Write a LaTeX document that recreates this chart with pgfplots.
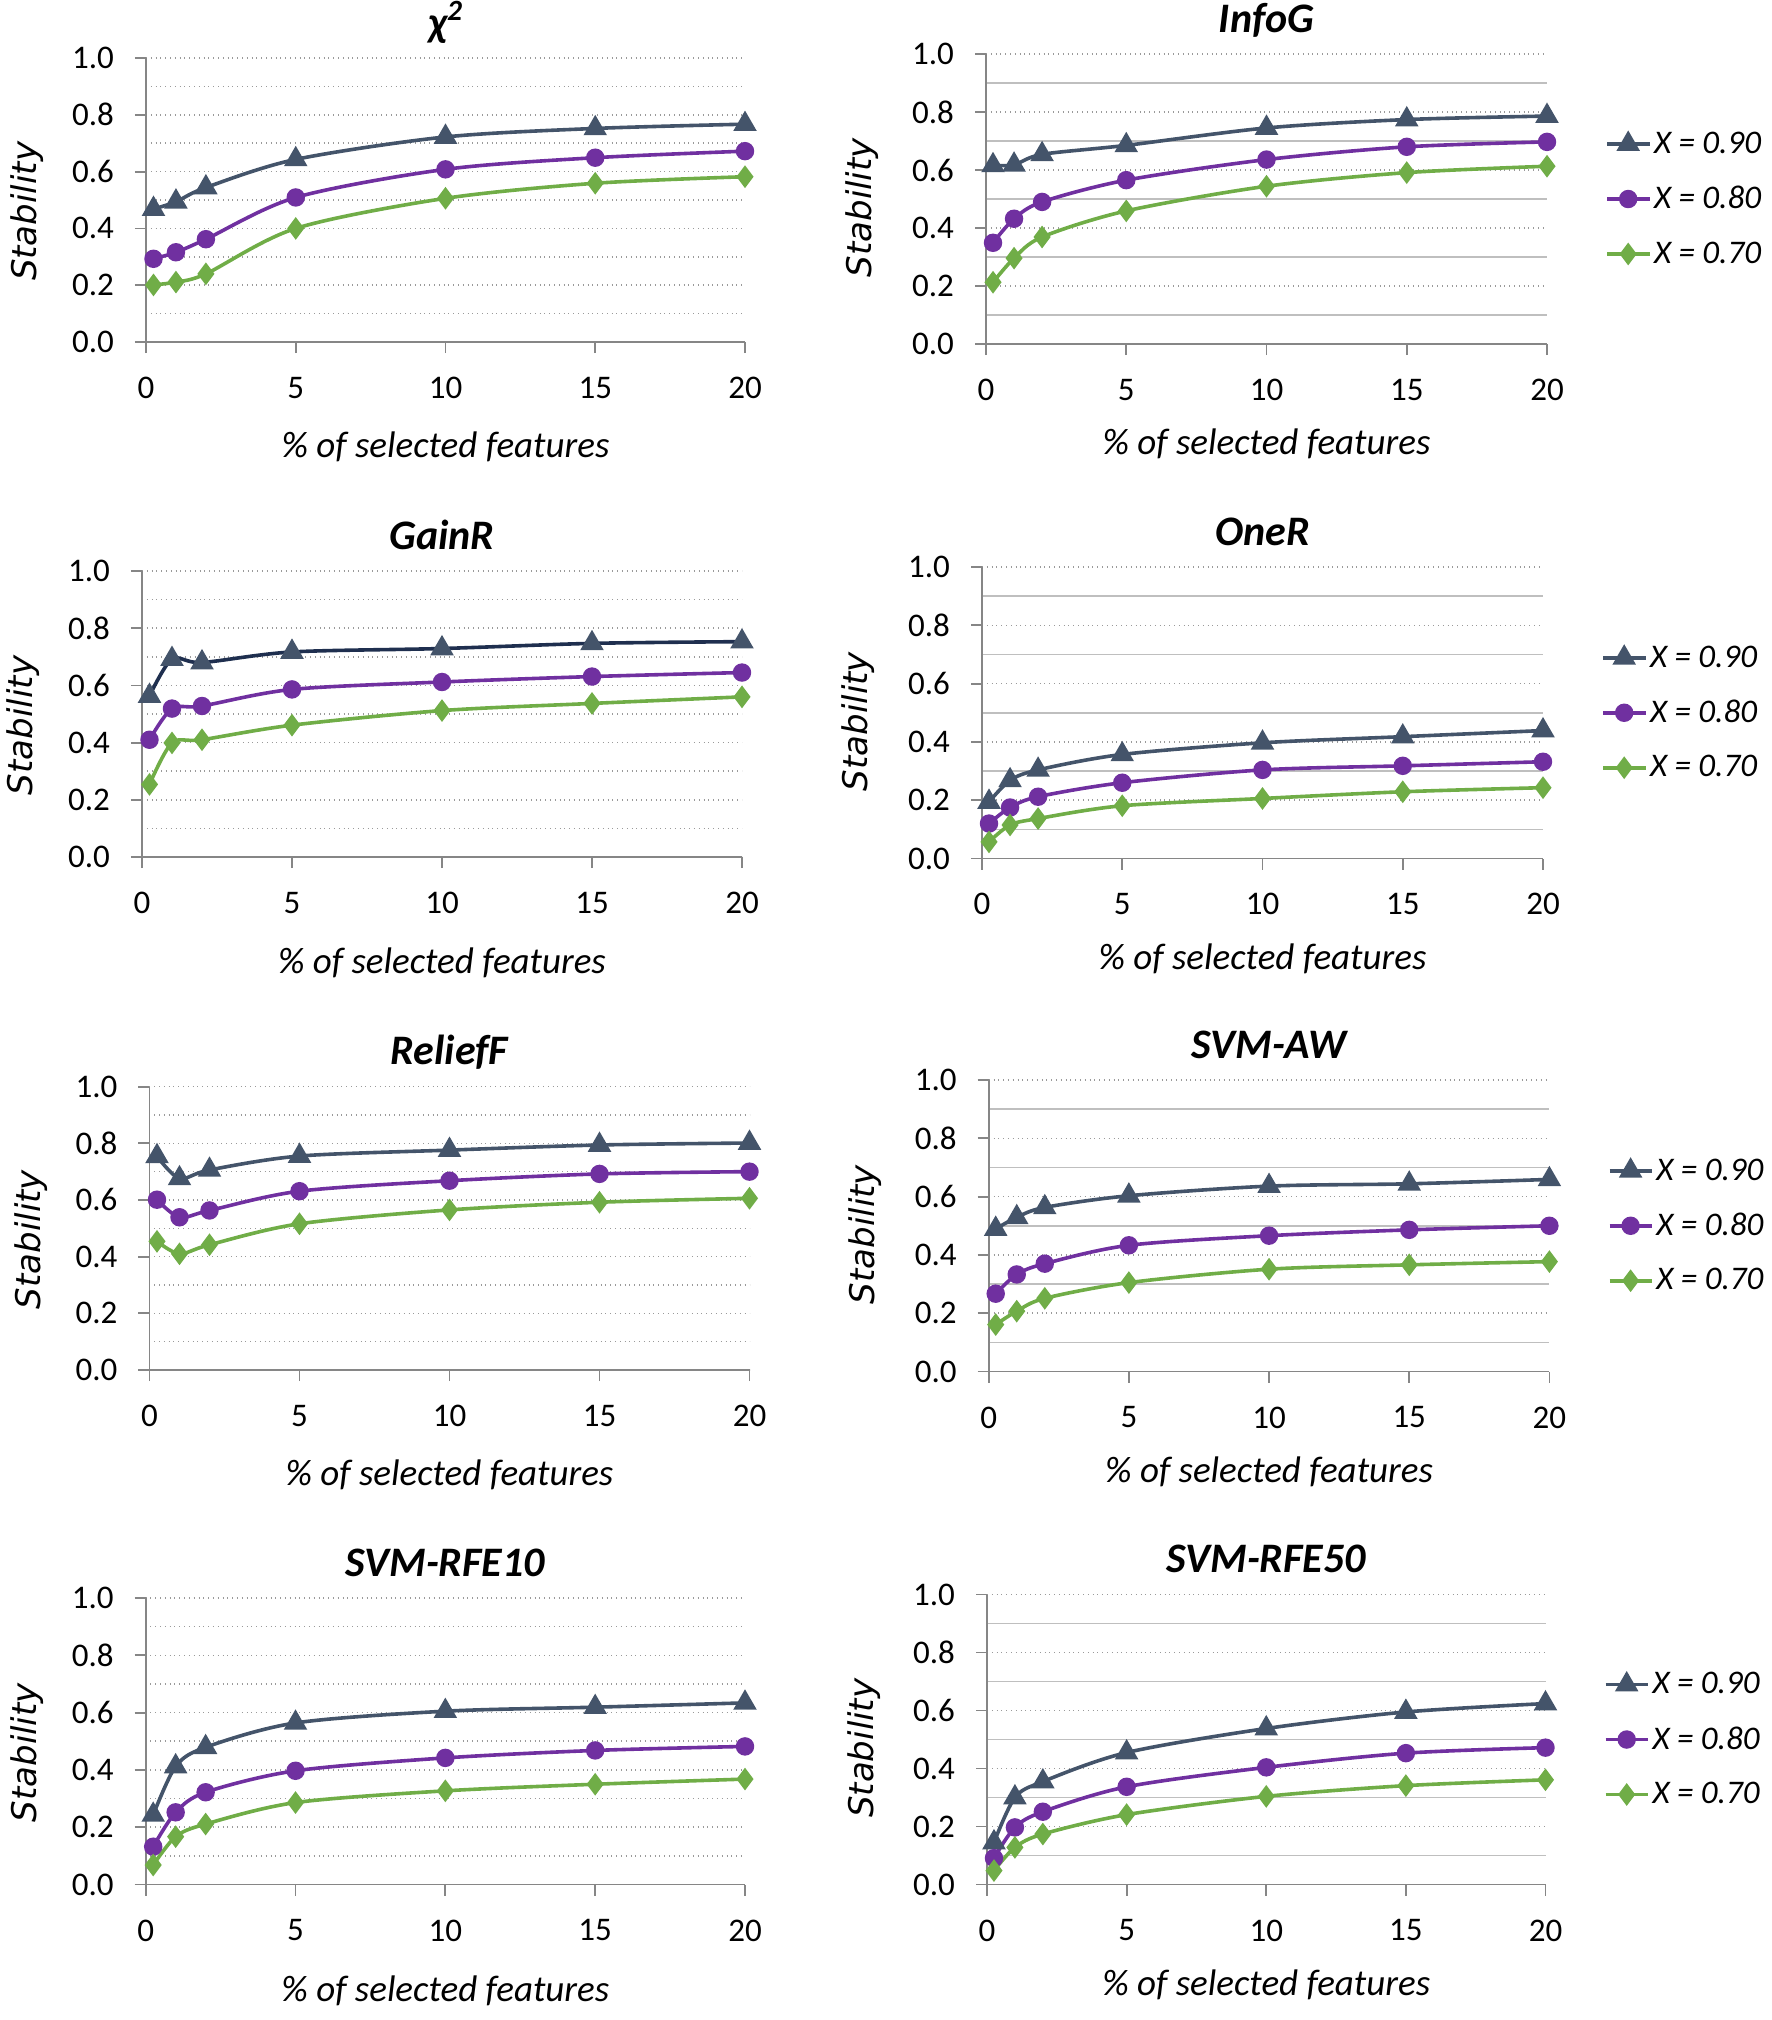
\documentclass[border=0pt]{standalone}
\usepackage{fontspec}
\setmainfont{Carlito}
\newfontfamily\stabfont{DejaVu Sans}
\usepackage{pgfplots}
\pgfplotsset{compat=1.18}
\usepackage{pgfplotstable}
\definecolor{cA}{HTML}{44546A}
\definecolor{cAdark}{HTML}{1F2F4F}
\definecolor{cB}{HTML}{7030A0}
\definecolor{cC}{HTML}{70AD47}
\definecolor{axgray}{HTML}{868686}
\definecolor{gridgray}{HTML}{9A9A9A}
\definecolor{minorgray}{HTML}{BFBFBF}

% chi2
\pgfplotstableread{
x a b c
0.25 0.468 0.293 0.201
1 0.494 0.316 0.211
2 0.544 0.362 0.240
5 0.643 0.509 0.400
10 0.722 0.608 0.506
15 0.752 0.649 0.559
20 0.767 0.672 0.582
}\tabA
% InfoG
\pgfplotstableread{
x a b c
0.25 0.616 0.349 0.213
1 0.618 0.432 0.296
2 0.654 0.490 0.369
5 0.685 0.565 0.459
10 0.745 0.636 0.544
15 0.774 0.680 0.591
20 0.786 0.697 0.613
}\tabB
% GainR
\pgfplotstableread{
x a b c
0.25 0.563 0.410 0.254
1 0.692 0.519 0.399
2 0.680 0.528 0.410
5 0.717 0.586 0.461
10 0.729 0.612 0.512
15 0.747 0.631 0.537
20 0.753 0.645 0.560
}\tabC
% OneR
\pgfplotstableread{
x a b c
0.25 0.194 0.120 0.057
1 0.268 0.175 0.115
2 0.304 0.212 0.137
5 0.357 0.260 0.181
10 0.397 0.304 0.206
15 0.418 0.318 0.229
20 0.439 0.332 0.243
}\tabD
% ReliefF
\pgfplotstableread{
x a b c
0.25 0.754 0.601 0.454
1 0.676 0.539 0.410
2 0.706 0.563 0.442
5 0.755 0.631 0.516
10 0.776 0.668 0.565
15 0.794 0.692 0.592
20 0.801 0.700 0.606
}\tabE
% SVM-AW
\pgfplotstableread{
x a b c
0.25 0.489 0.267 0.161
1 0.529 0.333 0.207
2 0.563 0.370 0.251
5 0.603 0.433 0.305
10 0.636 0.466 0.351
15 0.644 0.486 0.366
20 0.659 0.500 0.377
}\tabF
% SVM-RFE10
\pgfplotstableread{
x a b c
0.25 0.243 0.132 0.068
1 0.412 0.252 0.167
2 0.479 0.322 0.211
5 0.564 0.397 0.286
10 0.605 0.442 0.327
15 0.619 0.468 0.350
20 0.634 0.482 0.368
}\tabG
% SVM-RFE50
\pgfplotstableread{
x a b c
0.25 0.145 0.091 0.048
1 0.300 0.197 0.128
2 0.355 0.251 0.174
5 0.455 0.337 0.241
10 0.538 0.404 0.304
15 0.595 0.453 0.341
20 0.624 0.472 0.361
}\tabH

\pgfplotsset{
  pan/.style={
    scale only axis, anchor=south west,
    xmin=0, xmax=20, ymin=0, ymax=1,
    axis lines*=left,
    axis line style={axgray, line width=0.9pt, -},
    xtick={0,5,10,15,20},
    ytick={0,0.2,0.4,0.6,0.8,1.0},
    minor ytick={0.1,0.3,0.5,0.7,0.9},
    ymajorgrids, yminorgrids,
    major grid style={gridgray, dotted, line width=0.8pt},
    tick align=outside,
    major tick length=5.5pt,
    minor tick length=0pt,
    tick style={axgray, line width=0.9pt},
    ticklabel style={font=\fontsize{16.5}{19}\selectfont},
    xticklabel shift=8.5pt,
    yticklabel shift=7pt,
    /pgf/number format/assume math mode=true,
    yticklabel style={/pgf/number format/.cd, fixed, fixed zerofill, precision=1},
    title style={at={(0.5,1)}, anchor=base, yshift=5pt, font=\fontsize{21}{25}\selectfont\bfseries\itshape},
    xlabel={\% of selected features},
    xlabel style={font=\fontsize{18.5}{22}\selectfont\itshape, anchor=center},
    ylabel={Stability},
    ylabel style={font=\fontsize{17}{20}\selectfont\stabfont\itshape, anchor=center},
    clip=false,
  },
  lpan/.style={pan,
    minor grid style={gridgray, dotted, line width=0.8pt},
    ylabel style={at={(axis description cs:-0.198,0.46)}},
    xlabel style={at={(axis description cs:0.5,-0.37)}},
  },
  rpan/.style={pan,
    minor grid style={minorgray, solid, line width=0.8pt},
    ylabel style={at={(axis description cs:-0.22,0.47)}},
    xlabel style={at={(axis description cs:0.5,-0.345)}},
    legend style={at={(1,0.5)}, anchor=west, xshift=29pt, draw=none, fill=none,
      font=\fontsize{16.5}{19}\selectfont\itshape, row sep=13pt, inner sep=0pt,
      cells={anchor=west}, nodes={inner xsep=1.5pt, inner ysep=1pt}},
    legend image code/.code={\draw[#1, mark repeat=2, mark phase=2] plot coordinates {(0pt,0pt) (10.5pt,0pt) (21pt,0pt)};},
  },
  s90/.style={cA, line width=1.8pt, smooth, tension=0.5, mark=triangle*, mark size=5pt, mark options={solid, fill=cA}},
  s90d/.style={cAdark, line width=1.8pt, smooth, tension=0.5, mark=triangle*, mark size=5pt, mark options={solid, fill=cA, draw=cA}},
  s80/.style={cB, line width=1.8pt, smooth, tension=0.5, mark=*, mark size=3.7pt, mark options={solid, fill=cB}},
  s70/.style={cC, line width=1.8pt, smooth, tension=0.5, mark=diamond*, mark size=4.2pt, mark options={solid, fill=cC}},
}

\begin{document}
\begin{tikzpicture}
\path[use as bounding box] (0pt,0pt) rectangle (886pt,-1010pt);

% chi2
\begin{axis}[lpan, at={(73pt,-171pt)}, width=299.5pt, height=142pt, title={χ\textsuperscript{2}}]
\addplot[s90] table[x=x,y=a]{\tabA};
\addplot[s80] table[x=x,y=b]{\tabA};
\addplot[s70] table[x=x,y=c]{\tabA};
\end{axis}

% InfoG
\begin{axis}[rpan, at={(493pt,-172pt)}, width=280.5pt, height=145pt, title={InfoG}]
\addplot[s90] table[x=x,y=a]{\tabB}; \addlegendentry{X = 0.90}
\addplot[s80] table[x=x,y=b]{\tabB}; \addlegendentry{X = 0.80}
\addplot[s70] table[x=x,y=c]{\tabB}; \addlegendentry{X = 0.70}
\end{axis}

% GainR
\begin{axis}[lpan, at={(71pt,-428.5pt)}, width=300pt, height=143pt, title={GainR}]
\addplot[s90d] table[x=x,y=a]{\tabC};
\addplot[s80] table[x=x,y=b]{\tabC};
\addplot[s70] table[x=x,y=c]{\tabC};
\end{axis}

% OneR
\begin{axis}[rpan, at={(491pt,-429.25pt)}, width=280.5pt, height=145.75pt, title={OneR}]
\addplot[s90] table[x=x,y=a]{\tabD}; \addlegendentry{X = 0.90}
\addplot[s80] table[x=x,y=b]{\tabD}; \addlegendentry{X = 0.80}
\addplot[s70] table[x=x,y=c]{\tabD}; \addlegendentry{X = 0.70}
\end{axis}

% ReliefF
\begin{axis}[lpan, at={(74.75pt,-685pt)}, width=300pt, height=141.7pt, title={ReliefF}]
\addplot[s90] table[x=x,y=a]{\tabE};
\addplot[s80] table[x=x,y=b]{\tabE};
\addplot[s70] table[x=x,y=c]{\tabE};
\end{axis}

% SVM-AW
\begin{axis}[rpan, at={(494.35pt,-685.75pt)}, width=280.35pt, height=145.75pt, title={SVM-AW}]
\addplot[s90] table[x=x,y=a]{\tabF}; \addlegendentry{X = 0.90}
\addplot[s80] table[x=x,y=b]{\tabF}; \addlegendentry{X = 0.80}
\addplot[s70] table[x=x,y=c]{\tabF}; \addlegendentry{X = 0.70}
\end{axis}

% SVM-RFE10
\begin{axis}[lpan, at={(72.85pt,-942.25pt)}, width=299.65pt, height=143.25pt, title={SVM-RFE10}]
\addplot[s90] table[x=x,y=a]{\tabG};
\addplot[s80] table[x=x,y=b]{\tabG};
\addplot[s70] table[x=x,y=c]{\tabG};
\end{axis}

% SVM-RFE50
\begin{axis}[rpan, at={(493.5pt,-942.25pt)}, width=279.25pt, height=145pt, title={SVM-RFE50}]
\addplot[s90] table[x=x,y=a]{\tabH}; \addlegendentry{X = 0.90}
\addplot[s80] table[x=x,y=b]{\tabH}; \addlegendentry{X = 0.80}
\addplot[s70] table[x=x,y=c]{\tabH}; \addlegendentry{X = 0.70}
\end{axis}
\end{tikzpicture}
\end{document}
